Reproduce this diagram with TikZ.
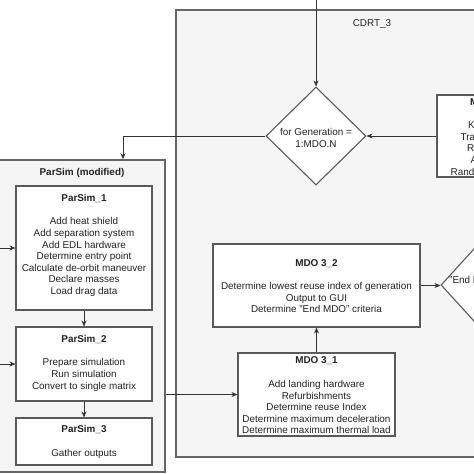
\documentclass[tikz,border=0pt]{standalone}
\usepackage{fontspec}
\setmainfont{Liberation Sans}
\usetikzlibrary{shapes.geometric,arrows.meta}
\definecolor{cfill}{HTML}{F5F5F5}
\definecolor{cborder}{HTML}{666666}
\definecolor{bborder}{HTML}{5A5A5A}
\definecolor{lcol}{HTML}{333333}
\definecolor{tcol}{HTML}{222222}
\begin{document}
\begin{tikzpicture}[x=1pt,y=-1pt,
  font=\fontsize{9.9}{11.6}\selectfont,
  container/.style={draw=cborder, fill=cfill, line width=1.6pt, inner sep=0pt},
  box/.style={draw=bborder, fill=white, line width=1.1pt, inner sep=0pt},
  decision/.style={diamond, draw=bborder, fill=white, line width=1.1pt, inner sep=0pt},
  txt/.style={align=center, inner sep=0pt, text=tcol},
  frag/.style={inner sep=0pt, text=tcol, anchor=base west},
  conn/.style={draw=lcol, line width=0.9pt, -{Stealth[length=6pt,width=5pt]}},
]
\useasboundingbox (0,0) rectangle (474,474);

% containers
\node[container, minimum width=404pt, minimum height=447pt] (cdrt) at (378,233.5) {};
\node[container, minimum width=175pt, minimum height=312pt] (parsim) at (77.5,316) {};
\node[txt, anchor=base] (cdrtlbl) at (372,26.6) {CDRT\_3};
\node[txt, anchor=base, font=\fontsize{9.9}{11.6}\selectfont\bfseries] (parsimlbl) at (82,175.6) {ParSim (modified)};

% ParSim boxes
\node[box, minimum width=136pt, minimum height=124pt] (p1) at (84,248) {};
\node[txt, anchor=north] (p1t) at (84,194.4) {\textbf{ParSim\_1}\\[11.6pt]
  Add heat shield\\Add separation system\\Add EDL hardware\\Determine entry point\\
  Calculate de-orbit maneuver\\Declare masses\\Load drag data};
\node[box, minimum width=136pt, minimum height=74pt] (p2) at (84,364) {};
\node[txt, anchor=north] (p2t) at (84,335.4) {\textbf{ParSim\_2}\\[11.6pt]
  Prepare simulation\\Run simulation\\Convert to single matrix};
\node[box, minimum width=136pt, minimum height=47pt] (p3) at (84,441.5) {};
\node[txt, anchor=north] (p3t) at (84,425.4) {\textbf{ParSim\_3}\\[12.4pt]
  Gather outputs};

% MDO boxes
\node[box, minimum width=207pt, minimum height=83pt] (m32) at (316.5,285.5) {};
\node[txt, anchor=north] (m32t) at (316.5,259.4) {\textbf{MDO 3\_2}\\[11.6pt]
  Determine lowest reuse index of generation\\Output to GUI\\Determine "End MDO" criteria};
\node[box, minimum width=157pt, minimum height=83pt] (m31) at (316.5,394.5) {};
\node[txt, anchor=north] (m31t) at (316.5,356.4) {\textbf{MDO 3\_1}\\[12.4pt]
  Add landing hardware\\Refurbishments\\Determine reuse Index\\
  Determine maximum deceleration\\Determine maximum thermal load};

% decisions
\node[decision, minimum width=100pt, minimum height=98pt] (gen) at (316,136) {};
\node[txt, anchor=north] (gent) at (316,128.2) {for Generation =\\1:MDO.N};
\node[decision, minimum width=100pt, minimum height=110pt] (endd) at (491,285) {};
\node[frag] (endt) at (449,283.5) {"End MDO" criteria};

% right box (cut off by the page edge)
\node[box, minimum width=123pt, minimum height=82pt] (rbox) at (498.5,136) {};
\node[frag, font=\fontsize{9.9}{11.6}\selectfont\bfseries] (rb0) at (470,105.3) {MDO 3\_3};
\node[frag] (rb1) at (468,128.6) {Keep best designs};
\node[frag] (rb2) at (460.5,140.3) {Transfer to next generation};
\node[frag] (rb3) at (467,151.9) {Recombine};
\node[frag] (rb4) at (470.5,163.5) {Add mutations};
\node[frag] (rb5) at (450.5,175.1) {Random new designs};

% connectors
\coordinate (topin) at (316,-5);
\coordinate (psx) at (123,0);
\coordinate (in1) at (-5,248);
\coordinate (in2) at (-5,364);
\draw[conn] (topin) -- (gen.north);
\draw[conn] (rbox.west |- gen.east) -- (gen.east);
\draw[conn] (gen.west) -| (psx |- parsim.north);
\draw[conn] (in1) -- (p1.west);
\draw[conn] (in2) -- (p2.west);
\draw[conn] (p1.south) -- (p2.north);
\draw[conn] (p2.south) -- (p3.north);
\draw[conn] (parsim.east |- m31.west) -- (m31.west);
\draw[conn] (m31.north) -- (m32.south);
\draw[conn] (m32.east) -- (m32.east -| endd.west);
\end{tikzpicture}
\end{document}
